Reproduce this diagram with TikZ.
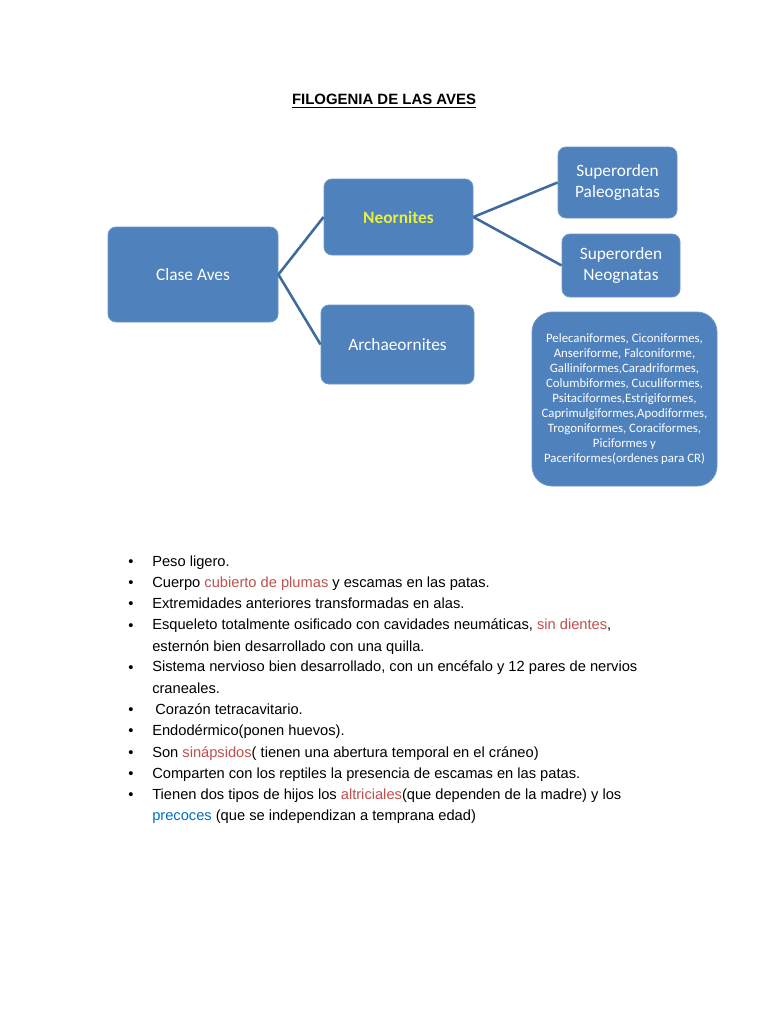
\documentclass[tikz,border=0pt]{standalone}
\usepackage{fontspec}
\setmainfont{Liberation Sans}
\newfontfamily\calibri{Carlito}
\usepackage{xcolor}
\usetikzlibrary{positioning}
\definecolor{boxblue}{HTML}{4F81BD}
\definecolor{boxedge}{HTML}{6E97C9}
\definecolor{linkblue}{HTML}{3E6A9C}
\definecolor{neoyellow}{HTML}{E8F03A}
\definecolor{redtxt}{HTML}{C0504D}
\definecolor{bluetxt}{HTML}{0070C0}

\begin{document}
\begin{tikzpicture}[x=0.75pt,y=-0.75pt,
  box/.style={draw=boxedge,line width=0.6pt,fill=boxblue,rounded corners=6pt,align=center,
    text=white,inner sep=2pt,font=\calibri\fontsize{13}{16}\selectfont},
  link/.style={draw=linkblue,line width=1.9pt},
  txt/.style={anchor=base west,align=left,inner sep=0pt,font=\fontsize{11}{16}\selectfont},
  dot/.style={anchor=base,inner sep=0pt,font=\fontsize{11}{16}\selectfont}]
\useasboundingbox[fill=white] (0,0) rectangle (768,1024);
% title
\node[font=\bfseries\fontsize{11.2}{13}\selectfont] (title) at (384,101) {\underline{FILOGENIA DE LAS AVES}};
% tree
\node[box,minimum width=127.5pt,minimum height=71.25pt] (clase) at (193,274.5) {Clase Aves};
\node[box,minimum width=111.75pt,minimum height=57pt,text=neoyellow,font=\calibri\bfseries\fontsize{13}{16}\selectfont] (neo) at (398.5,217) {Neornites};
\node[box,minimum width=114.75pt,minimum height=59.25pt] (arch) at (397.5,344.5) {Archaeornites};
\node[box,minimum width=89.25pt,minimum height=53.25pt] (paleo) at (617.5,182.5) {Superorden\\Paleognatas};
\node[box,minimum width=88.5pt,minimum height=47.25pt] (neog) at (621,265.5) {Superorden\\Neognatas};
\node[box,rounded corners=15pt,minimum width=138.75pt,minimum height=130.5pt,
  font=\calibri\fontsize{9.6}{11.2}\selectfont] (ordenes) at (624.5,399)
  {Pelecaniformes, Ciconiformes,\\Anseriforme, Falconiforme,\\Galliniformes,Caradriformes,\\
   Columbiformes, Cuculiformes,\\Psitaciformes,Estrigiformes,\\Caprimulgiformes,Apodiformes,\\
   Trogoniformes, Coraciformes,\\Piciformes y\\Paceriformes(ordenes para CR)};
\draw[link] (clase.east) -- (neo.west);
\draw[link] (clase.east) -- (arch.west);
\draw[link] (neo.east) -- (paleo.west);
\draw[link] (neo.east) -- (neog.west);
% list (two-line items sit on the baseline of their last line)
\foreach \y [count=\i] in {566,587,608.5,630,672,714.5,735.5,757,778,799.5}
  \node[dot] (b\i) at (131,\y) {\textbullet};
\node[txt] (t1) at (152,566) {Peso ligero.};
\node[txt] (t2) at (152,587) {Cuerpo \textcolor{redtxt}{cubierto de plumas} y escamas en las patas.};
\node[txt] (t3) at (152,608.5) {Extremidades anteriores transformadas en alas.};
\node[txt] (t4) at (152,651.3) {Esqueleto totalmente osificado con cavidades neumáticas, \textcolor{redtxt}{sin dientes},\\esternón bien desarrollado con una quilla.};
\node[txt] (t5) at (152,693.3) {Sistema nervioso bien desarrollado, con un encéfalo y 12 pares de nervios\\craneales.};
\node[txt] (t6) at (155,714.5) {Corazón tetracavitario.};
\node[txt] (t7) at (152,735.5) {Endodérmico(ponen huevos).};
\node[txt] (t8) at (152,757) {Son \textcolor{redtxt}{sinápsidos}( tienen una abertura temporal en el cráneo)};
\node[txt] (t9) at (152,778) {Comparten con los reptiles la presencia de escamas en las patas.};
\node[txt] (t10) at (152,820.8) {Tienen dos tipos de hijos los \textcolor{redtxt}{altriciales}(que dependen de la madre) y los\\\textcolor{bluetxt}{precoces} (que se independizan a temprana edad)};
\end{tikzpicture}
\end{document}
